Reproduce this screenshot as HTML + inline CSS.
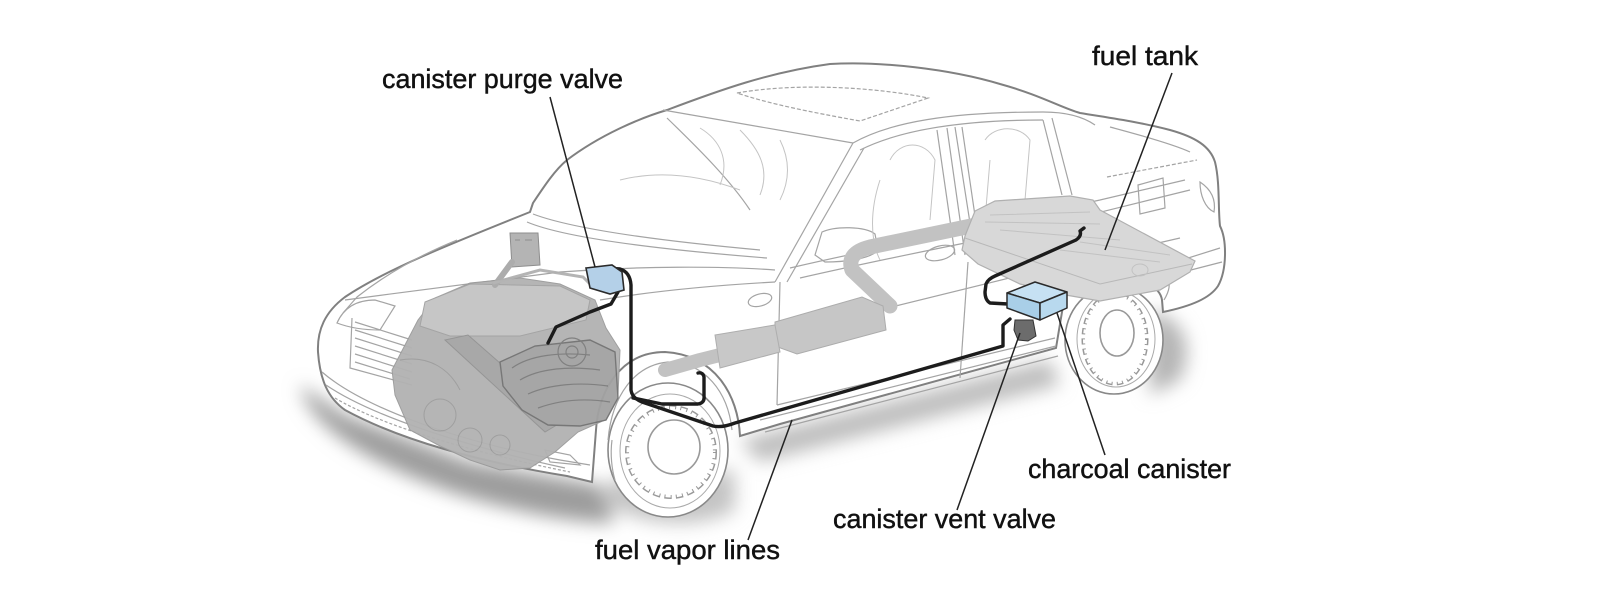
<!DOCTYPE html>
<html><head><meta charset="utf-8">
<style>
html,body{margin:0;padding:0;background:#fff;width:1600px;height:600px;overflow:hidden;}
svg{display:block;}
.lbl{font-family:"Liberation Sans",sans-serif;font-size:27px;fill:#111;stroke:#111;stroke-width:0.45;}
</style></head><body>
<svg width="1600" height="600" viewBox="0 0 1600 600" xmlns="http://www.w3.org/2000/svg">
<defs>
<filter id="b10" x="-30%" y="-30%" width="160%" height="160%"><feGaussianBlur stdDeviation="9"/></filter>
<filter id="b5" x="-30%" y="-30%" width="160%" height="160%"><feGaussianBlur stdDeviation="5"/></filter>
</defs>
<rect width="1600" height="600" fill="#fff"/>

<!-- shadows -->
<g filter="url(#b10)">
<path d="M300,385 C310,430 380,470 470,498 C530,515 590,525 615,522 L600,485 L470,462 L345,415 Z" fill="#9c9c9c"/>
<path d="M740,440 L1050,360 L1060,385 L760,462 Z" fill="#bdbdbd"/>
<path d="M1150,310 C1185,320 1195,345 1180,380 L1150,395 Z" fill="#b5b5b5"/>
<path d="M600,500 C640,528 700,530 735,510 L735,470 L610,480 Z" fill="#c4c4c4"/>
</g>

<!-- rear tire -->
<g fill="#fff" stroke="#888" stroke-width="1.6">
<ellipse cx="1114" cy="340" rx="49" ry="54"/>
<ellipse cx="1116" cy="339" rx="39" ry="48" stroke="#aaa" stroke-width="1"/>
<ellipse cx="1115" cy="339" rx="30" ry="43" stroke="#999" stroke-width="7" stroke-dasharray="6 4"/>
<ellipse cx="1115" cy="339" rx="30" ry="43" stroke="#fff" stroke-width="4" stroke-dasharray="4 6" stroke-dashoffset="-1"/>
<ellipse cx="1117" cy="333" rx="17" ry="23" stroke="#999"/>
</g>

<!-- front tire -->
<g fill="#fff" stroke="#888" stroke-width="1.6">
<ellipse cx="668" cy="450" rx="60" ry="67"/>
<ellipse cx="670" cy="451" rx="50" ry="57" stroke="#aaa" stroke-width="1"/>
<ellipse cx="671" cy="452" rx="42" ry="43" stroke="#999" stroke-width="8" stroke-dasharray="7 4"/>
<ellipse cx="671" cy="452" rx="42" ry="43" stroke="#fff" stroke-width="5" stroke-dasharray="5 6" stroke-dashoffset="-1"/>
<ellipse cx="674" cy="447" rx="26" ry="27" stroke="#999"/>
</g>

<!-- body silhouette -->
<path d="M318,352 C317,330 325,312 345,297 C385,270 450,244 530,212 L533,203 C545,185 555,170 567,160 C600,135 640,118 667,110 C720,90 770,72 830,64 C880,61 950,69 1000,84 C1040,95 1062,108 1080,113 C1110,118 1140,122 1170,130 C1195,137 1210,146 1215,162 C1220,182 1218,210 1220,226 C1227,240 1227,270 1218,286 C1210,298 1192,306 1163,312 L1162,300 C1158,272 1080,262 1064,300 L1056,348 L780,424 L740,436 C738,395 715,355 665,352 C620,352 598,392 596,430 L592,482 L567,476 C480,462 400,440 345,410 C328,398 320,380 318,352 Z" fill="#fff" stroke="#808080" stroke-width="2"/>

<!-- body detail lines -->
<g fill="none" stroke="#a4a4a4" stroke-width="1.2">
<path d="M457,240 C420,255 385,275 357,297 L343,313"/>
<path d="M345,300 C420,290 500,280 560,272 C640,266 720,266 775,270"/>
<path d="M527,222 C560,236 640,248 767,258"/>
<path d="M533,214 C570,228 650,240 760,250"/>
<path d="M600,300 C660,290 720,285 775,282"/>
<path d="M337,323 C345,305 360,300 375,300 L395,306 L380,330 C365,330 350,328 337,323 Z"/>
<path d="M355,322 L412,340 M355,330 L412,348 M355,338 L412,356 M355,346 L412,364 M355,354 L412,372 M355,362 L410,379"/>
<path d="M352,318 L350,368 L412,385"/>
<path d="M322,372 C360,405 450,440 560,460 L590,465"/>
<path d="M326,385 C370,415 460,445 565,468"/>
<path d="M335,398 C380,425 470,452 570,472" stroke-dasharray="3 2"/>
<path d="M545,450 L570,455 L580,465 L550,462 Z"/>
<path d="M608,440 C612,395 635,365 668,362 C705,362 728,392 732,430"/>
<path d="M615,480 C612,470 610,455 612,440"/>
<path d="M663,110 L853,143"/>
<path d="M853,143 L775,282"/>
<path d="M864,148 L787,282"/>
<path d="M667,118 C700,150 730,180 750,210"/>
<path d="M737,93 C800,82 880,88 928,98 L860,121 C810,112 770,104 737,93 Z" stroke-dasharray="4 2"/>
<path d="M853,143 C890,122 950,112 1043,112 C1070,112 1085,118 1095,125"/>
<path d="M860,150 C900,130 960,120 1043,120"/>
<path d="M937,130 L955,255 M947,128 L965,255 M955,127 L975,255 M962,127 L980,250"/>
<path d="M1043,120 L1062,195 M1052,118 L1072,195"/>
<path d="M790,268 C850,254 920,240 960,233 C1010,222 1060,208 1100,200 L1185,180"/>
<path d="M800,278 C870,262 940,248 980,240 C1040,228 1100,212 1190,190"/>
<path d="M780,282 L777,405"/>
<path d="M968,262 L960,378"/>
<path d="M777,405 L1055,338"/>
<path d="M760,420 L1056,346"/>
<path d="M765,432 L1058,356"/>
<path d="M790,332 L1050,268 L1180,238"/>
<ellipse cx="940" cy="253" rx="15" ry="7" transform="rotate(-15 940 253)"/>
<ellipse cx="760" cy="300" rx="12" ry="6" transform="rotate(-15 760 300)"/>
<path d="M822,232 C835,226 865,226 875,234 L878,250 C870,260 840,262 825,262 L815,255 Z"/>
<path d="M1110,127 C1140,135 1175,145 1190,152"/>
<path d="M1107,177 L1197,160" stroke-dasharray="4 2"/>
<path d="M1138,185 L1163,178 L1165,208 L1140,214 Z"/>
<path d="M1200,182 C1212,190 1216,200 1214,212 C1205,208 1200,195 1200,182 Z"/>
<path d="M1150,270 L1220,248 M1152,280 L1222,262"/>
<path d="M1164,300 C1170,290 1170,285 1168,276"/>
<g stroke="#c4c4c4" stroke-width="1">
<path d="M890,160 C900,140 925,140 935,160 L930,220 M880,180 C870,210 870,240 880,260"/>
<path d="M985,140 C995,125 1020,125 1030,140 L1025,200 M990,160 L985,220"/>
<path d="M700,128 C720,140 730,160 720,185 M740,130 C760,150 770,170 760,195 M780,140 C790,160 790,180 780,200"/>
<path d="M620,180 C660,170 700,175 740,190"/>
</g>
</g>

<!-- exhaust -->
<g stroke="#c2c2c2" fill="none" stroke-linecap="round" stroke-linejoin="round">
<path d="M1000,220 L870,247 Q846,253 852,270 L890,306" stroke-width="15"/>
<path d="M780,340 L700,360 L665,370" stroke-width="14"/>
</g>
<path d="M775,322 L862,297 L883,306 L886,330 L797,354 L775,346 Z" fill="#c6c6c6" stroke="#acacac" stroke-width="1"/>
<path d="M715,335 L775,325 L780,352 L720,368 Z" fill="#c8c8c8" stroke="#aeaeae" stroke-width="1"/>

<!-- fuel tank -->
<path d="M965,236 L975,211 L995,201 L1070,196 L1093,200 L1100,210 L1195,261 L1190,272 L1160,290 L1100,301 L1060,294 L1020,284 L978,264 L962,250 Z" fill="#d8d8d8" stroke="#b0b0b0" stroke-width="1.2"/>
<path d="M965,238 L1100,284 L1192,264" fill="none" stroke="#b8b8b8" stroke-width="1"/>
<g fill="none" stroke="#c2c2c2" stroke-width="1">
<path d="M990,215 L1090,212 M985,222 L1100,224 M1000,230 L1120,240 M1060,250 L1160,262 M1080,242 L1170,255"/>
<ellipse cx="1140" cy="270" rx="8" ry="6"/>
</g>

<!-- engine -->
<g opacity="0.95">
<path d="M395,395 L392,370 L405,345 L418,320 L435,298 L470,283 L520,278 L560,284 L595,300 L606,328 L620,350 L618,395 L605,420 L578,432 L555,452 L530,468 L500,470 L470,460 L440,446 L410,430 Z" fill="#b2b2b2" stroke="#9a9a9a" stroke-width="1"/>
<path d="M425,302 L470,284 L560,286 L590,300 L586,320 L520,336 L450,336 L420,326 Z" fill="#c4c4c4" stroke="#a0a0a0" stroke-width="1"/>
<path d="M445,340 L468,335 L565,420 L545,432 Z" fill="#a4a4a4" stroke="#909090" stroke-width="1"/>
<path d="M500,362 L535,346 L590,340 L615,352 L618,398 L606,420 L580,426 L548,425 L522,410 L503,386 Z" fill="#a2a2a2" stroke="#707070" stroke-width="1.4"/>
<g fill="none" stroke="#7a7a7a" stroke-width="1.2">
<path d="M512,368 C530,355 560,352 590,355 M520,380 C540,368 570,366 600,370 M528,394 C550,384 580,382 608,386 M538,408 C560,400 585,398 610,402"/>
<circle cx="572" cy="352" r="14"/>
<circle cx="572" cy="352" r="6"/>
</g>
<g fill="none" stroke="#9a9a9a" stroke-width="1">
<circle cx="440" cy="415" r="16"/>
<circle cx="470" cy="440" r="12"/>
<circle cx="500" cy="445" r="10"/>
<path d="M400,360 C430,355 450,370 460,390"/>
</g>
<path d="M510,233 L538,233 L540,265 L512,267 Z" fill="#b0b0b0" stroke="#888" stroke-width="1"/>
<path d="M515,240 L520,240 M525,240 L532,240" stroke="#888"/>
<path d="M512,262 L495,285" stroke="#a8a8a8" stroke-width="6" stroke-linecap="round"/>
<path d="M493,283 L540,270 L583,277 L592,286" fill="none" stroke="#b0b0b0" stroke-width="3"/>
</g>

<!-- fuel vapor lines -->
<g fill="none" stroke="#1c1c1c" stroke-width="3.4" stroke-linejoin="round" stroke-linecap="round">
<path d="M605,268 L620,269 Q630,272 631,285 L631,390 Q632,398 642,402 L713,426 Q722,428 735,423 L1003,346 L1003,325 L1010,319"/>
<path d="M633,398 L662,404 L698,404 Q705,403 704,396 L704,377 Q703,372 698,373"/>
<path d="M1008,304 L990,303 Q985,300 985,292 L986,284 Q988,279 995,276 L1076,240 Q1082,236 1080,231 L1084,228"/>
<path d="M618,292 L611,304 L590,312 L556,327 L548,343"/>
</g>

<!-- purge valve -->
<path d="M586,268 L612,265 L622,272 L624,290 L610,294 L590,288 Z" fill="#b4d0e8" stroke="#2a2a2a" stroke-width="1.6"/>

<!-- charcoal canister -->
<g stroke="#2a2a2a" stroke-width="1.5" stroke-linejoin="round">
<path d="M1007,293 L1035,282 L1067,292 L1040,303 Z" fill="#c6e1f3"/>
<path d="M1007,293 L1040,303 L1040,320 L1007,308 Z" fill="#a9cfe8"/>
<path d="M1040,303 L1067,292 L1067,308 L1040,320 Z" fill="#b8d9ee"/>
</g>
<path d="M1015,320 L1033,320 L1036,336 L1028,341 L1018,340 L1014,330 Z" fill="#6c6c6c" stroke="#333" stroke-width="1"/>

<!-- leader lines -->
<g stroke="#222" stroke-width="1.5" fill="none">
<line x1="550" y1="97" x2="595" y2="267"/>
<line x1="1172" y1="73" x2="1105" y2="250"/>
<line x1="1105" y1="455" x2="1057" y2="313"/>
<line x1="957" y1="510" x2="1020" y2="333"/>
<line x1="748" y1="540" x2="792" y2="420"/>
</g>

<!-- labels -->
<text class="lbl" x="382" y="88" textLength="241" lengthAdjust="spacingAndGlyphs">canister purge valve</text>
<text class="lbl" x="1092" y="65" textLength="106" lengthAdjust="spacingAndGlyphs">fuel tank</text>
<text class="lbl" x="1028" y="478" textLength="203" lengthAdjust="spacingAndGlyphs">charcoal canister</text>
<text class="lbl" x="833" y="528" textLength="223" lengthAdjust="spacingAndGlyphs">canister vent valve</text>
<text class="lbl" x="595" y="559" textLength="185" lengthAdjust="spacingAndGlyphs">fuel vapor lines</text>
</svg>
</body></html>
